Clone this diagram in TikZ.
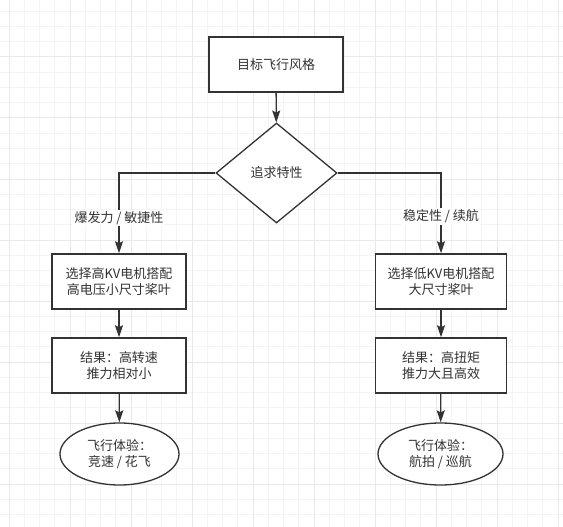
\documentclass[tikz,border=0pt]{standalone}
\usepackage{fontspec}
\setmainfont{Noto Sans CJK SC}
\usepackage{xcolor}
\usepackage{tikz}
\usetikzlibrary{shapes.geometric,arrows.meta}
\definecolor{inkgray}{HTML}{333333}
\definecolor{gridminor}{HTML}{F4F4F4}
\definecolor{gridmajor}{HTML}{E9E9E9}

\begin{document}
\begin{tikzpicture}[x=1pt,y=-1pt,
		font=\fontsize{13}{15.5}\selectfont,
		procbox/.style={draw=inkgray,line width=1.5pt,fill=white,text=inkgray,align=center,
			minimum width=134pt,minimum height=55pt,inner sep=0pt},
		decision/.style={diamond,draw=inkgray,line width=1.3pt,fill=white,text=inkgray,
			minimum width=121pt,minimum height=100pt,inner sep=0pt},
		outcome/.style={ellipse,draw=inkgray,line width=1.3pt,fill=white,text=inkgray,align=center,
			minimum width=119pt,minimum height=62pt,inner sep=0pt},
		flow/.style={draw=inkgray,line width=1.3pt,-{Stealth[length=12pt,width=8pt,inset=2pt]}},
		edgelabel/.style={fill=white,text=inkgray,inner sep=1.5pt}]
		\useasboundingbox (0,0) rectangle (563,527);
		\fill[white] (0,0) rectangle (563,527);
		
		% background grid
		\foreach \k in {0,...,36}
		{
		\draw[gridminor,line width=1pt] ({9+15.25*\k},0) to ({9+15.25*\k},527);
		}
		\foreach \k in {-3,...,30}
		{
		\draw[gridminor,line width=1pt] (0,{57+15.25*\k}) to (563,{57+15.25*\k});
		}
		\foreach \k in {0,...,9}
		{
		\draw[gridmajor,line width=1pt] ({9+61*\k},0) to ({9+61*\k},527);
		}
		\foreach \k in {0,...,7}
		{
		\draw[gridmajor,line width=1pt] (0,{57+61*\k}) to (563,{57+61*\k});
		}
		
		% nodes
		\node[procbox] (goal) at (276,64.5) {目标飞行风格};
		\node[decision] (seek) at (276.5,173) {追求特性};
		
		\node[procbox] (highkv) at (119,281.5) {选择高KV电机搭配\\高电压小尺寸桨叶};
		\node[procbox] (highres) at (119,365.5) {结果：高转速\\推力相对小};
		\node[outcome] (highexp) at (119.5,454) {飞行体验：\\竞速 / 花飞};
		
		\node[procbox,minimum width=131pt] (lowkv) at (441,281.5) {选择低KV电机搭配\\大尺寸桨叶};
		\node[procbox,minimum width=131pt] (lowres) at (441,365.5) {结果：高扭矩\\推力大且高效};
		\node[outcome,minimum width=125pt] (lowexp) at (440.5,454) {飞行体验：\\航拍 / 巡航};
		
		% connectors
		\draw[flow] (goal) to (seek);
		\draw[flow] (seek.west) -| node[edgelabel,pos=0.78]{爆发力 / 敏捷性} (highkv.north);
		\draw[flow] (seek.east) -| node[edgelabel,pos=0.77]{稳定性 / 续航} (lowkv.north);
		\draw[flow] (highkv) to (highres);
		\draw[flow] (highres) to (highexp);
		\draw[flow] (lowkv) to (lowres);
		\draw[flow] (lowres) to (lowexp);
	\end{tikzpicture}
\end{document}
